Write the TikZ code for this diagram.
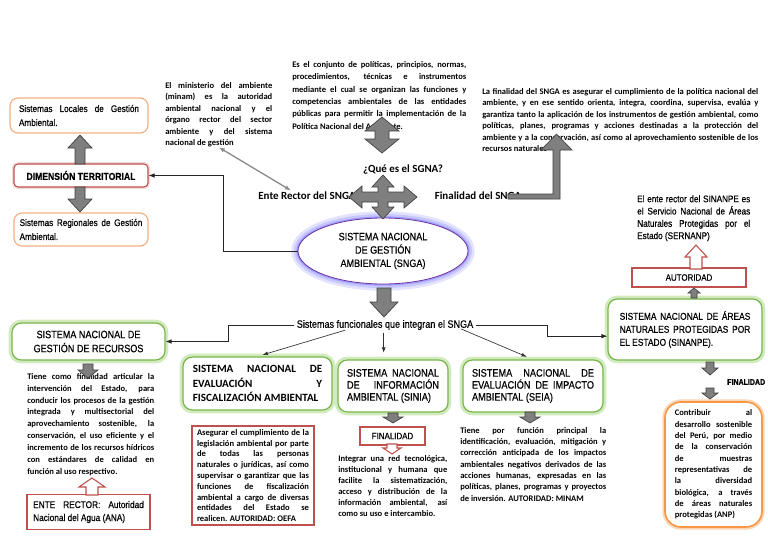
\documentclass[tikz,border=0pt]{standalone}
\usepackage{fontspec}
\setmainfont{Carlito}
\newfontfamily\nar[FakeStretch=0.85,FakeBold=0.4]{Liberation Sans}
\usetikzlibrary{arrows.meta,shapes.geometric}
\definecolor{grn}{HTML}{79B54A}
\definecolor{grnglow}{HTML}{D2EBBE}
\definecolor{orng}{HTML}{F4B183}
\definecolor{orngB}{HTML}{F79646}
\definecolor{orngglow}{HTML}{FCD5B5}
\definecolor{redb}{HTML}{C0504D}
\definecolor{pinkglow}{HTML}{F2DCDB}
\definecolor{arrowgray}{HTML}{7F7F7F}
\definecolor{arrowedge}{HTML}{404040}
\definecolor{purp}{HTML}{7030A0}
\definecolor{glowblue}{HTML}{8F8FFF}
\tolerance=10000 \hyphenpenalty=10000 \hbadness=10000 \vbadness=10000
\newcommand{\bodyfont}[1]{\fontsize{6.4pt}{#1}\selectfont\bfseries}
\newcommand{\narfont}[2]{\nar\fontsize{#1}{#2}\selectfont}
% vertical block arrow: style, x, ytail, ytip, shaft half width, head half width, head length
\newcommand{\vblk}[7]{%
  \pgfmathsetmacro{\vbHB}{#4 + ((#3>#4) ? #7 : -#7)}%
  \draw[#1] ({#2-#5},#3) -- ({#2-#5},\vbHB) -- ({#2-#6},\vbHB) -- (#2,#4) -- ({#2+#6},\vbHB) -- ({#2+#5},\vbHB) -- ({#2+#5},#3) -- cycle;}
% vertical double block arrow: style, x, ytop tip, ybottom tip, shaft hw, head hw, head length
\newcommand{\vdbl}[7]{%
  \draw[#1] (#2,#3) -- ({#2+#6},{#3+#7}) -- ({#2+#5},{#3+#7}) -- ({#2+#5},{#4-#7}) -- ({#2+#6},{#4-#7}) -- (#2,#4) -- ({#2-#6},{#4-#7}) -- ({#2-#5},{#4-#7}) -- ({#2-#5},{#3+#7}) -- ({#2-#6},{#3+#7}) -- cycle;}
\begin{document}
\begin{tikzpicture}[x=0.75pt,y=-0.75pt,
  body/.style={inner sep=0pt, align=justify, anchor=north west},
  blk/.style={fill=arrowgray, draw=arrowedge, line width=0.5pt},
  redarrow/.style={fill=white, draw=redb, line width=0.8pt},
  greenbox/.style={draw=grn, line width=0.9pt, rounded corners=7pt, fill=white, inner sep=0pt, preaction={draw=grnglow, line width=5pt}},
  orangebox/.style={draw=orng, line width=0.9pt, rounded corners=6pt, fill=white, inner sep=0pt},
  contribbox/.style={draw=orngB, line width=1.2pt, rounded corners=12pt, fill=white, inner sep=0pt, preaction={draw=orngglow, line width=4pt}},
  dimbox/.style={draw=redb, line width=0.8pt, rounded corners=3pt, fill=white, inner sep=0pt, preaction={draw=pinkglow, line width=3pt}},
  redbox/.style={draw=redb, line width=0.8pt, fill=white, inner sep=0pt},
  sngastyle/.style={ellipse, draw=purp, line width=0.6pt, fill=white, minimum width=127.5pt, minimum height=49.5pt, inner sep=0pt, align=center,
     preaction={draw=glowblue!25, line width=10pt}, preaction={draw=glowblue!50, line width=6pt}, preaction={draw=glowblue!85, line width=2.5pt}},
  conn/.style={draw=black!85, line width=0.7pt, -{Latex[length=4.5pt,width=3.5pt]}},
  thinconn/.style={draw=black!80, line width=0.5pt, -{Latex[length=4pt,width=3pt]}},
  grayconn/.style={draw=black!45, line width=1pt, {Latex[length=4.5pt,width=3.5pt]}-{Latex[length=4.5pt,width=3.5pt]}},
  lbl/.style={font=\bfseries\fontsize{8.2pt}{10pt}\selectfont, inner sep=1pt}
]
\fill[white] (0,0) rectangle (768,543);
\useasboundingbox (0,0) rectangle (768,543);

% ---------- free texts ----------
\node[body, text width=80.25pt, font={\bodyfont{8.6pt}}] (ministerio) at (165,82)
 {\parfillskip=0pt El ministerio del ambiente\linebreak (minam) es la autoridad\linebreak ambiental nacional y el\linebreak órgano rector del sector\linebreak ambiente y del sistema\linebreak nacional de gestión};

\node[body, text width=130.5pt, font={\bodyfont{9.3pt}}] (conjunto) at (292,61)
 {Es el conjunto de políticas, principios, normas,\linebreak procedimientos, técnicas e instrumentos\linebreak mediante el cual se organizan las funciones y\linebreak competencias ambientales de las entidades\linebreak públicas para permitir la implementación de la\linebreak Política Nacional del Ambiente.};

\node[body, text width=207pt, font={\bodyfont{8.6pt}}] (finalidadtxt) at (482,88)
 {La finalidad del SNGA es asegurar el cumplimiento de la política nacional del\linebreak ambiente, y en ese sentido orienta, integra, coordina, supervisa, evalúa y\linebreak garantiza tanto la aplicación de los instrumentos de gestión ambiental, como\linebreak políticas, planes, programas y acciones destinadas a la protección del\linebreak ambiente y a la conservación, así como al aprovechamiento sostenible de los\linebreak recursos naturales};

\node[body, text width=84.75pt, font={\narfont{7.2pt}{9.2pt}}] (sernanp) at (637,195)
 {El ente rector del SINANPE es\linebreak el Servicio Nacional de Áreas\linebreak Naturales Protegidas por el\linebreak Estado (SERNANP)};

\node[body, text width=95.25pt, font={\bodyfont{8.9pt}}] (tiene) at (27,373)
 {Tiene como finalidad articular la\linebreak intervención del Estado, para\linebreak conducir los procesos de la gestión\linebreak integrada y multisectorial del\linebreak aprovechamiento sostenible, la\linebreak conservación, el uso eficiente y el\linebreak incremento de los recursos hídricos\linebreak con estándares de calidad en\linebreak función al uso respectivo.};

\node[body, text width=81.75pt, font={\bodyfont{8.3pt}}] (integrar) at (338,455)
 {Integrar una red tecnológica,\linebreak institucional y humana que\linebreak facilite la sistematización,\linebreak acceso y distribución de la\linebreak información ambiental, así\linebreak como su uso e intercambio.};

\node[body, text width=109.5pt, font={\bodyfont{8.5pt}}] (tienepor) at (460,427)
 {Tiene por función principal la\linebreak identificación, evaluación, mitigación y\linebreak corrección anticipada de los impactos\linebreak ambientales negativos derivados de las\linebreak acciones humanas, expresadas en las\linebreak políticas, planes, programas y proyectos\linebreak de inversión. AUTORIDAD: MINAM};

% ---------- labels ----------
\node[lbl] (que) at (403,170) {¿Qué es el SGNA?};
\node[lbl] (enterector) at (307,196) {Ente Rector del SNGA};
\node[lbl] (finlbl) at (478,196) {Finalidad del SNGA};
\node[font={\narfont{8pt}{10pt}}, inner sep=2pt] (funcionales) at (385,325) {Sistemas funcionales que integran el SNGA};
\node[font={\narfont{6.2pt}{8pt}\bfseries}, anchor=west, inner sep=0pt] (finright) at (727,382) {FINALIDAD};

% ---------- boxes ----------
\node[orangebox, minimum width=103.5pt, minimum height=26.25pt, text width=90pt, align=justify, font={\narfont{7.2pt}{10.5pt}}] (locales) at (79,115.5)
 {Sistemas Locales de Gestión\linebreak Ambiental.};
\node[dimbox, minimum width=100.5pt, minimum height=17.25pt, font={\narfont{7.6pt}{9pt}\bfseries}] (dimension) at (81,175.5) {DIMENSIÓN TERRITORIAL};
\node[orangebox, minimum width=100.5pt, minimum height=24.75pt, text width=92pt, align=justify, font={\narfont{7.2pt}{10.5pt}}] (regionales) at (81,229.5)
 {Sistemas Regionales de Gestión\linebreak Ambiental.};

\node[sngastyle, font={\narfont{8pt}{10pt}}] (snga) at (383,251) {SISTEMA NACIONAL\\DE GESTIÓN\\AMBIENTAL (SNGA)};

\node[greenbox, minimum width=114.75pt, minimum height=27.75pt, align=center, font={\narfont{8pt}{10.5pt}}] (sngr) at (88.5,341.5) {SISTEMA NACIONAL DE\\GESTIÓN DE RECURSOS};
\node[greenbox, minimum width=111.75pt, minimum height=39.75pt, text width=97pt, align=justify, font={\fontsize{8.3pt}{10.9pt}\selectfont\bfseries}] (snefa) at (257.5,383.5)
 {SISTEMA NACIONAL DE\linebreak EVALUACIÓN Y\linebreak FISCALIZACIÓN AMBIENTAL};
\node[greenbox, minimum width=82.5pt, minimum height=39pt, text width=69pt, align=justify, font={\narfont{8.1pt}{9pt}}] (sinia) at (393,386)
 {SISTEMA NACIONAL\linebreak DE INFORMACIÓN\linebreak AMBIENTAL (SINIA)};
\node[greenbox, minimum width=105pt, minimum height=39pt, text width=91.5pt, align=justify, font={\narfont{8.1pt}{9pt}}] (seia) at (533,386)
 {SISTEMA NACIONAL DE\linebreak EVALUACIÓN DE IMPACTO\linebreak AMBIENTAL (SEIA)};
\node[greenbox, minimum width=115.5pt, minimum height=45.75pt, text width=98pt, align=justify, font={\narfont{7.4pt}{9.75pt}}] (sinanpe) at (685,329.5)
 {SISTEMA NACIONAL DE ÁREAS\linebreak NATURALES PROTEGIDAS POR\linebreak EL ESTADO (SINANPE).};

\node[redbox, minimum width=85.5pt, minimum height=14.25pt, font={\narfont{7pt}{8pt}}] (autoridad) at (689,277.5) {AUTORIDAD};
\node[redbox, minimum width=48.75pt, minimum height=13.5pt, font={\narfont{7pt}{8pt}}] (finbox) at (392.5,436) {FINALIDAD};
\node[redbox, minimum width=91.5pt, minimum height=74.25pt, text width=84pt, align=justify, font={\bodyfont{8.1pt}}] (asegurar) at (253,475.5)
 {Asegurar el cumplimiento de la\linebreak legislación ambiental por parte\linebreak de todas las personas\linebreak naturales o jurídicas, así como\linebreak supervisar o garantizar que las\linebreak funciones de fiscalización\linebreak ambiental a cargo de diversas\linebreak entidades del Estado se\linebreak realicen. AUTORIDAD: OEFA};
\node[redbox, minimum width=92.25pt, minimum height=26.25pt, text width=83pt, align=justify, font={\narfont{7.3pt}{9.75pt}}] (ana) at (88.5,512)
 {ENTE RECTOR: Autoridad\linebreak Nacional del Agua (ANA)};
\node[contribbox, minimum width=72.75pt, minimum height=93.75pt, text width=58pt, align=justify, font={\bodyfont{8.5pt}}] (contrib) at (713.5,464.5)
 {Contribuir al\linebreak desarrollo sostenible\linebreak del Perú, por medio\linebreak de la conservación\linebreak de muestras\linebreak representativas de\linebreak la diversidad\linebreak biológica, a través\linebreak de áreas naturales\linebreak protegidas (ANP)};

% ---------- connectors ----------
\draw[conn] (snga.west) -- ++(-74,0) |- (dimension.east);
\draw[conn] (funcionales.west) -- ++(-65,0) |- (sngr.east);
\draw[conn] (funcionales.east) -- ++(71,0) |- ([yshift=-5pt]sinanpe.west);
\draw[thinconn, shorten >=4pt] ([xshift=-30pt,yshift=2pt]funcionales.south) -- (snefa.north);
\draw[thinconn, shorten >=5pt] ([xshift=-1pt]funcionales.south) -- ([xshift=-1pt]funcionales.south |- sinia.north);
\draw[thinconn, shorten >=5pt] ([xshift=57pt,yshift=3pt]funcionales.south) -- (seia.north);
\draw[grayconn] (ministerio.south) -- ([xshift=-12pt]enterector.north);

% ---------- block arrows ----------
\vblk{blk}{80}{164}{135}{5}{12}{13}
\vblk{blk}{80}{187}{212}{5}{12}{13}
\vdbl{blk}{382}{117}{153}{7}{17}{14}
\begin{scope}[shift={(383,197)}]
\draw[blk] (0,-22) -- (11,-10) -- (5,-10) -- (5,-5) -- (21,-5) -- (21,-11) -- (34,0) -- (21,11) -- (21,5) -- (5,5) -- (5,10) -- (11,10) -- (0,22) -- (-11,10) -- (-5,10) -- (-5,5) -- (-21,5) -- (-21,11) -- (-34,0) -- (-21,-11) -- (-21,-5) -- (-5,-5) -- (-5,-10) -- (-11,-10) -- cycle;
\end{scope}
\draw[blk] (508,194) -- (553,194) -- (553,150) -- (541,150) -- (556.5,134) -- (572,150) -- (560,150) -- (560,199) -- (508,199) -- cycle;
\vblk{blk}{384}{288}{317}{7}{14}{15}
\vblk{blk}{88}{364}{378}{5}{10}{8}
\vblk{blk}{393}{413}{423}{5}{10}{6}
\vblk{blk}{530}{412}{423}{5}{10}{6}
\vblk{blk}{694}{298}{288}{3}{6}{5}
\vblk{blk}{710}{362}{375}{4}{8}{7}
\vblk{blk}{710}{388}{399}{4}{8}{6}
\vblk{redarrow}{92}{495}{478}{6}{13}{9}
\vblk{redarrow}{696}{269}{245}{6}{11}{12}
\vblk{redarrow}{392}{444}{454}{5}{9}{6}
\end{tikzpicture}
\end{document}
